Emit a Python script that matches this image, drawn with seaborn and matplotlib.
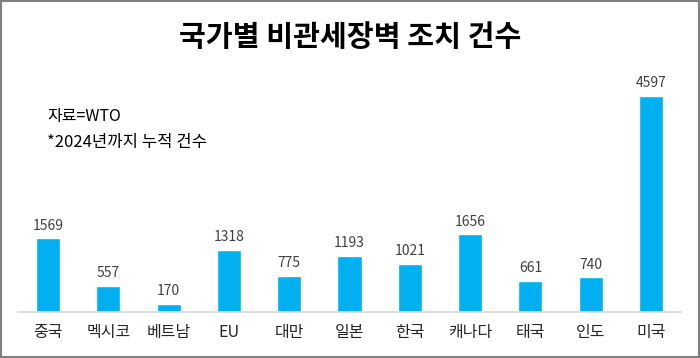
import matplotlib
matplotlib.use("Agg")
import matplotlib.pyplot as plt
import matplotlib.patches as patches
import seaborn as sns
import pandas as pd

# Data
countries = ["중국", "멕시코", "베트남", "EU", "대만", "일본", "한국", "캐나다", "태국", "인도", "미국"]
counts = [1569, 557, 170, 1318, 775, 1193, 1021, 1656, 661, 740, 4597]

df = pd.DataFrame({"country": countries, "count": counts})

sns.set_theme(style="white")
plt.rcParams["font.family"] = ["Noto Sans CJK KR", "DejaVu Sans"]

fig = plt.figure(figsize=(7, 3.58), dpi=100)
ax = fig.add_axes([0.0255, 0.1285, 0.9476, 0.6564])

sns.barplot(data=df, x="country", y="count", color="#00B0F0",
            width=0.4, saturation=1, ax=ax)

ax.bar_label(ax.containers[0], fontsize=10, color="#404040", padding=4)

ax.set_xlim(-0.5, 10.5)
ax.set_ylim(0, 5000)
ax.set_xlabel("")
ax.set_ylabel("")
ax.set_yticks([])
ax.tick_params(axis="x", length=0, pad=9, labelsize=11.5, labelcolor="#262626")
for s in ["top", "left", "right"]:
    ax.spines[s].set_visible(False)
ax.spines["bottom"].set_color("#D9D9D9")
ax.spines["bottom"].set_linewidth(1.2)

# Title and notes
fig.text(0.5, 1 - 37 / 358, "국가별 비관세장벽 조치 건수", ha="center", va="center",
         fontsize=21, fontweight="bold", color="black")
fig.text(47 / 700, 1 - 116 / 358, "자료=WTO", ha="left", va="center",
         fontsize=11.5, color="black")
fig.text(47 / 700, 1 - 143 / 358, "*2024년까지 누적 건수", ha="left", va="center",
         fontsize=12, color="black")

# Outer frame
fig.patches.append(patches.Rectangle((0.002, 0.003), 0.996, 0.994, transform=fig.transFigure,
                                     fill=False, edgecolor="#808080", linewidth=1.5))

fig.savefig("out.png", dpi=100)
